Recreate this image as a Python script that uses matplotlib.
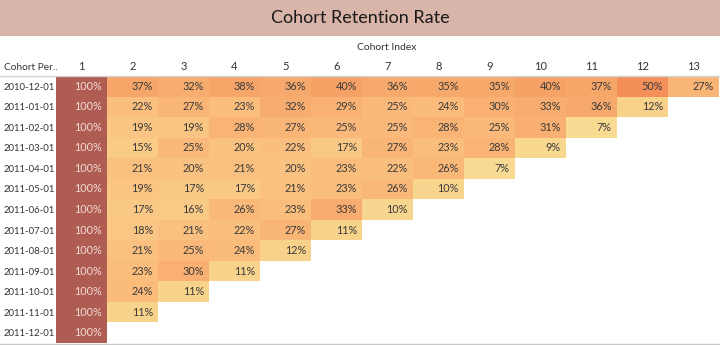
import numpy as np
import matplotlib
matplotlib.use("Agg")
import matplotlib.pyplot as plt
from matplotlib.colors import LinearSegmentedColormap

plt.rcParams['font.family'] = ['Lato', 'DejaVu Sans']

cohorts = ['2010-12-01', '2011-01-01', '2011-02-01', '2011-03-01', '2011-04-01',
           '2011-05-01', '2011-06-01', '2011-07-01', '2011-08-01', '2011-09-01',
           '2011-10-01', '2011-11-01', '2011-12-01']
index_labels = [str(i) for i in range(1, 14)]

retention = [
    [100, 37, 32, 38, 36, 40, 36, 35, 35, 40, 37, 50, 27],
    [100, 22, 27, 23, 32, 29, 25, 24, 30, 33, 36, 12],
    [100, 19, 19, 28, 27, 25, 25, 28, 25, 31, 7],
    [100, 15, 25, 20, 22, 17, 27, 23, 28, 9],
    [100, 21, 20, 21, 20, 23, 22, 26, 7],
    [100, 19, 17, 17, 21, 23, 26, 10],
    [100, 17, 16, 26, 23, 33, 10],
    [100, 18, 21, 22, 27, 11],
    [100, 21, 25, 24, 12],
    [100, 23, 30, 11],
    [100, 24, 11],
    [100, 11],
    [100],
]

# pad the triangle out to a full grid
grid = np.full((len(cohorts), len(index_labels)), np.nan)
for i, row in enumerate(retention):
    grid[i, :len(row)] = row
masked = np.ma.masked_invalid(grid)

lo, hi = 7, 100
stops = [(7, '#F8DA92'), (12, '#F8D18B'), (20, '#FAC281'), (30, '#F9B072'),
         (40, '#F6A267'), (50, '#F48F5A'), (100, '#AF5D53')]
cmap = LinearSegmentedColormap.from_list(
    'ret', [((v - lo) / (hi - lo), c) for v, c in stops])

W, H = 720, 345
fig = plt.figure(figsize=(W / 100, H / 100), dpi=100)

# title band
band = fig.add_axes([0, 1 - 36 / H, 1, 36 / H])
band.set_facecolor('#D9B4A8')
band.set_xticks([]); band.set_yticks([])
for s in band.spines.values():
    s.set_visible(False)
band.text(0.5, 0.5, 'Cohort Retention Rate', ha='center', va='center',
          fontsize=13, color='#1a1a1a', transform=band.transAxes)

left, right, top, bottom = 56, 719, 76, 343
ax = fig.add_axes([left / W, 1 - bottom / H, (right - left) / W, (bottom - top) / H])
ax.pcolormesh(np.arange(14), np.arange(14), masked, cmap=cmap, vmin=lo, vmax=hi)
ax.set_xlim(0, 13)
ax.set_ylim(13, 0)

for i, row in enumerate(retention):
    for j, v in enumerate(row):
        ax.text(j + 0.9, i + 0.5, f'{v}%', ha='right', va='center', fontsize=7.8,
                color='#F3D9D4' if v == 100 else '#3a3a3a')

ax.xaxis.tick_top()
ax.set_xticks(np.arange(13) + 0.5)
ax.set_xticklabels(index_labels, fontsize=8, color='#333333')
ax.set_yticks(np.arange(13) + 0.5)
ax.set_yticklabels(cohorts, fontsize=6.9, color='#333333', ha='left')
ax.tick_params(axis='both', length=0)
ax.tick_params(axis='x', pad=3)
ax.tick_params(axis='y', pad=52 * 0.72)
for s in ax.spines.values():
    s.set_visible(False)

fig.text(387 / W, 1 - 48 / H, 'Cohort Index', ha='center', va='center',
         fontsize=7.5, color='#333333')
fig.text(4 / W, 1 - 67 / H, 'Cohort Per..', ha='left', va='center',
         fontsize=7.3, color='#333333')

# header rule and bottom rule
fig.add_artist(plt.Line2D([0, 1], [1 - 75.5 / H, 1 - 75.5 / H], color='#D4D4D4', lw=1))
fig.add_artist(plt.Line2D([0, 1], [1 - 343.5 / H, 1 - 343.5 / H], color='#C8C8C8', lw=1))

fig.savefig('out.png', dpi=100)
